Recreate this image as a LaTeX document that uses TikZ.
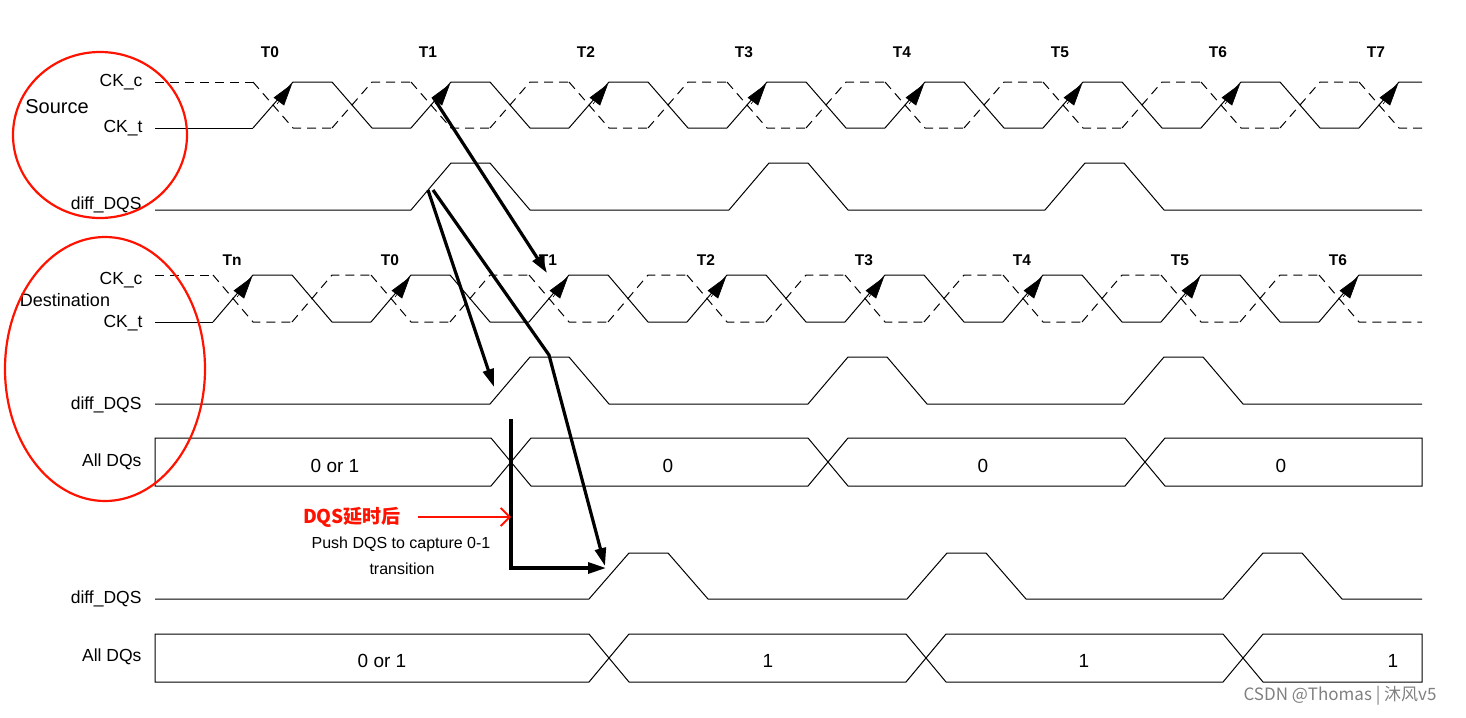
\documentclass[tikz,border=0pt]{standalone}
\usepackage{fontspec}
\setmainfont{Liberation Sans}
\newfontfamily\cjk{Noto Sans CJK SC}
\usetikzlibrary{arrows.meta}
\begin{document}
\begin{tikzpicture}[x=1pt,y=-1pt,line width=1pt,
  sig/.style={line width=1pt},
  dsig/.style={line width=1pt,dash pattern=on 9pt off 6pt},
  lbl/.style={font=\fontsize{17.5}{17.5}\selectfont,anchor=east,inner sep=0},
  tl/.style={font=\bfseries\fontsize{15.5}{15.5}\selectfont,inner sep=0},
  big/.style={line width=3.2pt,-{Triangle[length=18pt,width=11pt]}},
  tick/.style={line width=0.6pt,-{Triangle[length=22pt,width=13pt]}},
  ring/.style={draw=red!85!orange,line width=2.2pt},
  val/.style={font=\fontsize{19}{19}\selectfont}]
\useasboundingbox (0,0) rectangle (1466,717);
\newcommand{\myclock}[3]{%
  \draw[sig] (155,#3) -- (#1,#3);
  \draw[dsig] (155,#2) -- (#1,#2);
  \foreach \k in {0,...,14}{%
    \pgfmathsetmacro\e{#1+79*\k}%
    \pgfmathsetmacro\f{\k==14 ? 1422 : \e+79}%
    \ifodd\k
      \draw[sig] (\e,#2) -- (\e+40,#3) -- (\f,#3);
      \draw[dsig] (\e,#3) -- (\e+40,#2) -- (\f,#2);
    \else
      \draw[sig] (\e,#3) -- (\e+40,#2) -- (\f,#2);
      \draw[dsig] (\e,#2) -- (\e+40,#3) -- (\f,#3);
      \draw[tick] (\e+24,#2+22) -- (\e+39,#2+2);
    \fi}}
\newcommand{\mydqs}[3]{%
  \draw[sig] (155,#3) -- (#1,#3) -- (#1+40,#2) -- (#1+79,#2) -- (#1+119,#3)
   -- (#1+318,#3) -- (#1+358,#2) -- (#1+397,#2) -- (#1+437,#3)
   -- (#1+634,#3) -- (#1+674,#2) -- (#1+713,#2) -- (#1+753,#3) -- (1422,#3);}
\newcommand{\mybus}[3]{%
  \draw[sig] (155,#2) -- (#1,#2) -- (#1+40,#3) -- (#1+317,#3) -- (#1+357,#2) -- (#1+634,#2) -- (#1+674,#3) -- (1422,#3) -- (1422,#2)
    -- (#1+674,#2) -- (#1+634,#3) -- (#1+357,#3) -- (#1+317,#2) -- (#1+40,#2) -- (#1,#3) -- (155,#3) -- cycle;}
\myclock{253}{82}{128}
\myclock{213}{275}{322}
\mydqs{411}{163}{210}
\mydqs{490}{357}{404}
\mydqs{589}{553}{599}
\mybus{491}{438}{486}
\mybus{589}{634}{682}
\foreach \t [count=\i from 0] in {T0,T1,T2,T3,T4,T5,T6,T7}
  \node[tl] (st\i) at (270+158*\i,52) {\t};
\foreach \t [count=\i from 0] in {Tn,T0,T1,T2,T3,T4,T5,T6}
  \node[tl] (dt\i) at (232+158*\i,260) {\t};
\node[lbl] (l1) at (143,82) {CK\_c};
\node[lbl] (l2) at (143,128) {CK\_t};
\node[lbl] (l3) at (142,205) {diff\_DQS};
\node[lbl] (l4) at (143,280) {CK\_c};
\node[lbl] (l5) at (143,323) {CK\_t};
\node[lbl] (l6) at (142,405) {diff\_DQS};
\node[lbl] (l7) at (142,462) {All DQs};
\node[lbl] (l8) at (142,599) {diff\_DQS};
\node[lbl] (l9) at (142,657) {All DQs};
\node[font=\fontsize{20}{20}\selectfont,inner sep=0] (src) at (57,107) {Source};
\node[font=\fontsize{18}{18}\selectfont,inner sep=0] (dst) at (65,300) {Destination};
\node[val] (b1) at (335,466) {0 or 1};
\node[val] (b2) at (668,466) {0};
\node[val] (b3) at (983,466) {0};
\node[val] (b4) at (1281,466) {0};
\node[val] (c1) at (382,661) {0 or 1};
\node[val] (c2) at (768,661) {1};
\node[val] (c3) at (1084,661) {1};
\node[val] (c4) at (1393,661) {1};
\draw[ring] (100,135) ellipse [x radius=87,y radius=83];
\draw[ring] (105,369) ellipse [x radius=100,y radius=132];
\coordinate (a0) at (433,97);
\coordinate (a1) at (547,273);
\coordinate (b0) at (428,190);
\coordinate (b1x) at (494,387);
\coordinate (c0) at (433,190);
\coordinate (cm) at (549,355);
\coordinate (c1x) at (605,566);
\coordinate (v0) at (511,419);
\coordinate (v1) at (511,568);
\coordinate (v2) at (606,568);
\draw[big] (a0) -- (a1);
\draw[big] (b0) -- (b1x);
\draw[big,line join=round] (c0) -- (cm) -- (c1x);
\draw[big] (v0) -- (v1) -- (v2);
\node[font=\fontsize{19}{19}\selectfont\cjk\bfseries,text=red!85!orange,inner sep=0] (red) at (352,517) {DQS延时后};
\coordinate (r1) at (511,517);
\draw[red!85!orange,line width=1.8pt,-{Straight Barb[length=9pt,width=18pt]}] (418,517) -- (r1);
\node[font=\fontsize{16}{16}\selectfont,inner sep=0] (p1) at (401,544) {Push DQS to capture 0-1};
\node[font=\fontsize{16}{16}\selectfont,inner sep=0] (p2) at (402,569) {transition};
\node[font=\fontsize{17}{17}\selectfont\cjk,text=gray,inner sep=0] (wm) at (1340,696) {CSDN @Thomas | 沐风v5};
\end{tikzpicture}
\end{document}
